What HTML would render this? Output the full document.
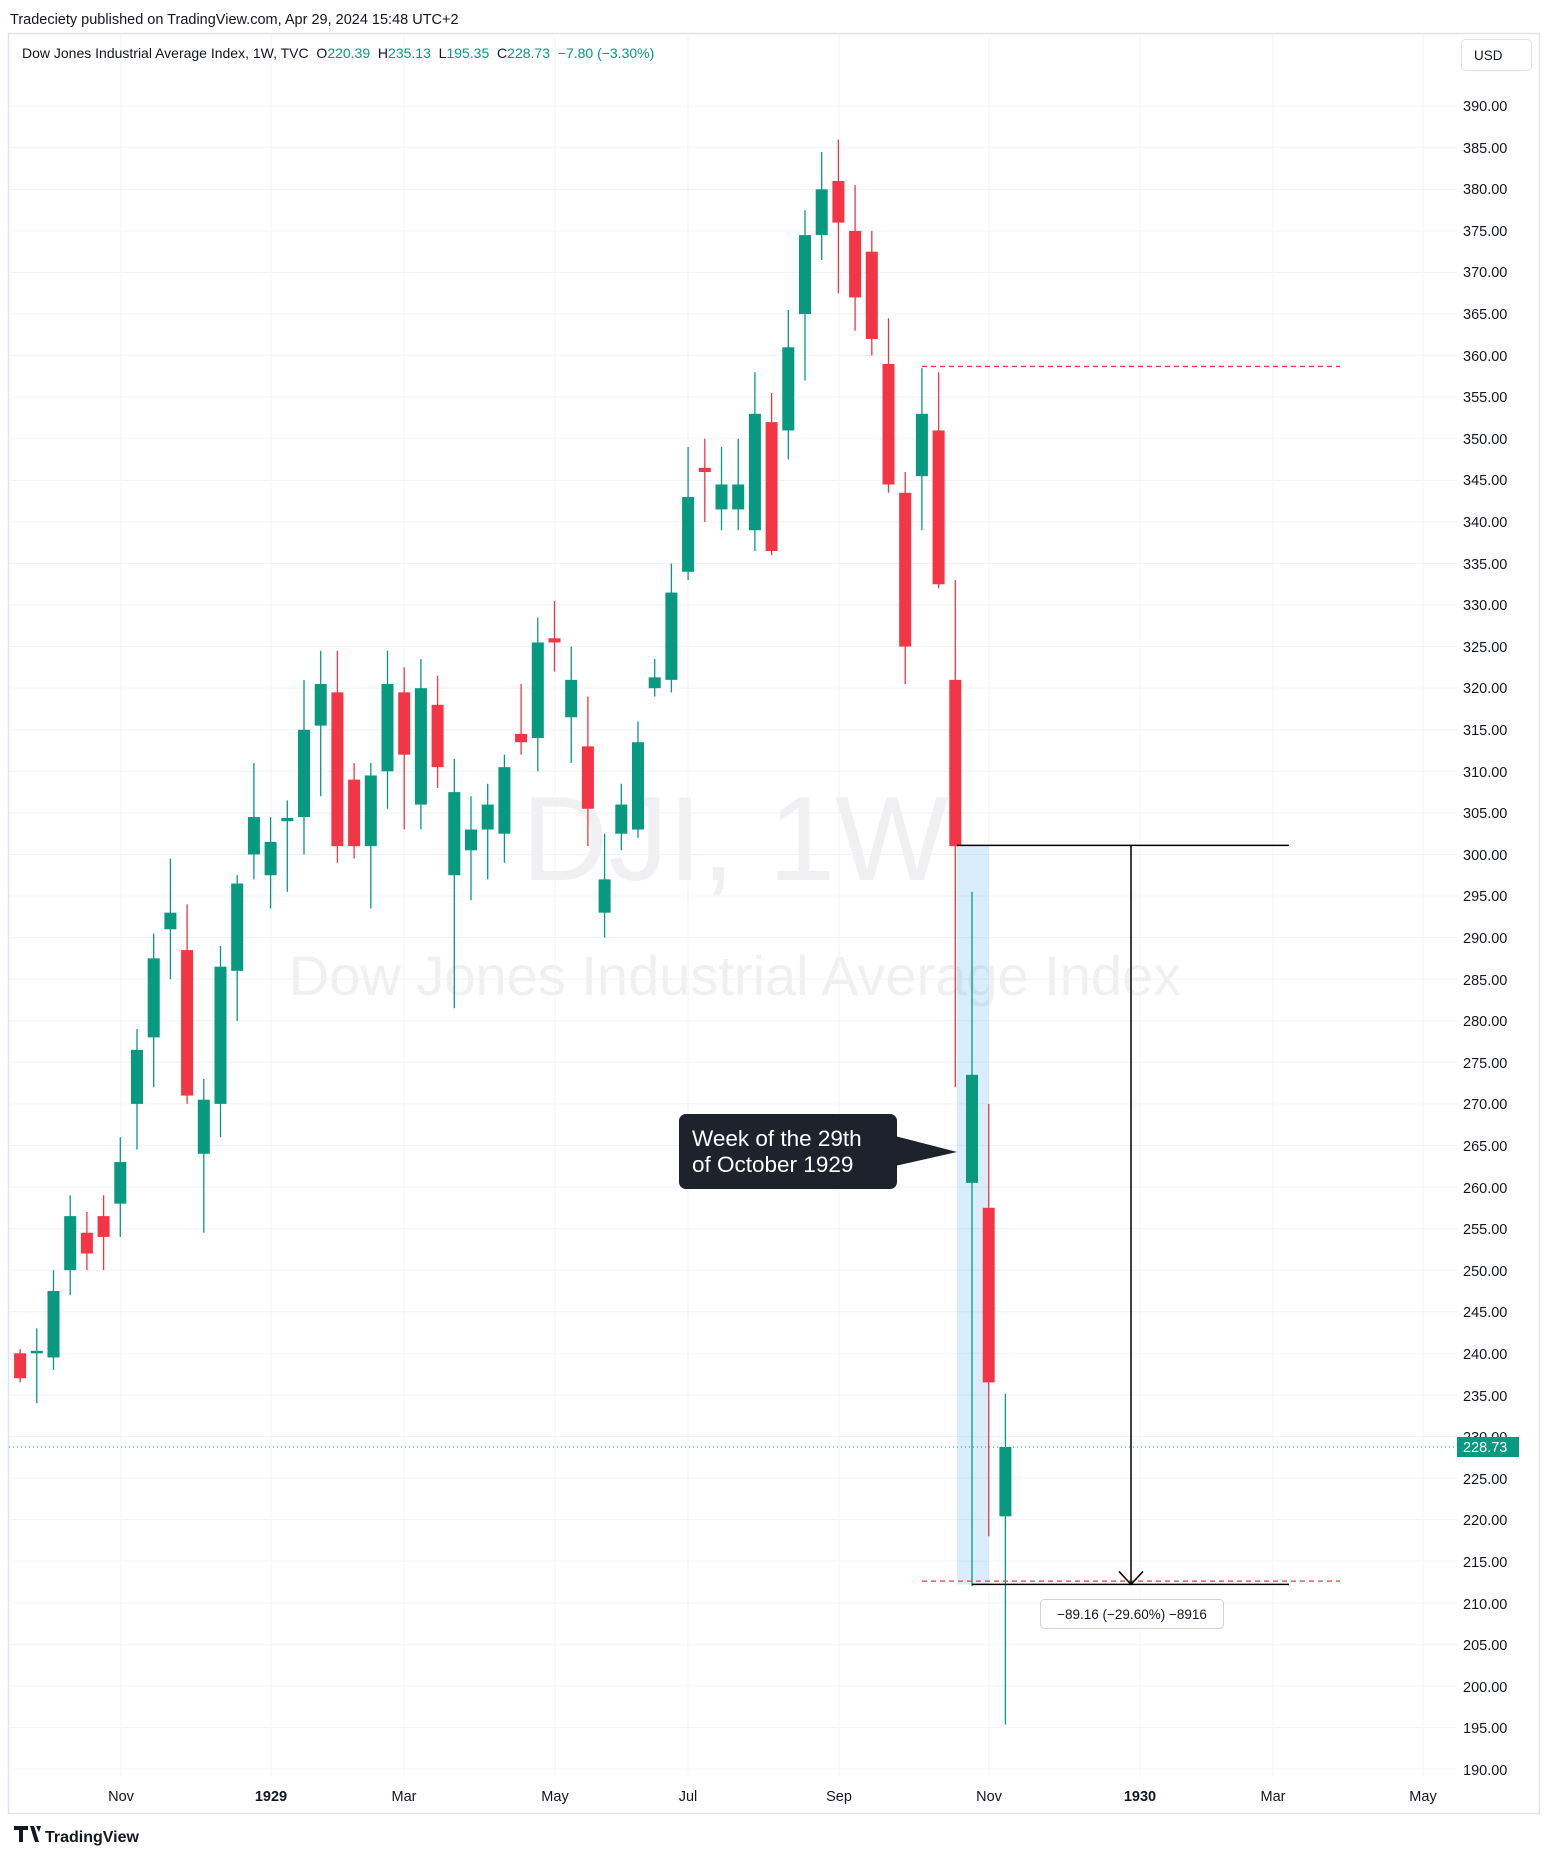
<!DOCTYPE html>
<html><head><meta charset="utf-8"><style>
html,body{margin:0;padding:0;background:#fff;}
svg{display:block;font-family:"Liberation Sans",sans-serif;}
</style></head><body>
<svg id="c" width="1552" height="1857" viewBox="0 0 1552 1857" xmlns="http://www.w3.org/2000/svg">
<rect width="1552" height="1857" fill="#fff"/>
<text x="10" y="24" font-size="14.5" fill="#131722">Tradeciety published on TradingView.com, Apr 29, 2024 15:48 UTC+2</text>
<rect x="8.5" y="33.5" width="1531" height="1780" fill="none" stroke="#e0e3eb" stroke-width="1.5"/>
<g id="grid" stroke="#f0f3fa" stroke-width="1"></g>
<g font-size="84" fill="#f0f0f2" text-anchor="middle">
<text x="735" y="880" font-size="120">DJI, 1W</text>
<text x="735" y="995" font-size="56">Dow Jones Industrial Average Index</text>
</g>
<g id="ann"></g>
<g id="candles"></g>
<g id="over"></g>
<text x="22" y="58" font-size="14" fill="#131722" style="white-space:pre" xml:space="preserve">Dow Jones Industrial Average Index, 1W, TVC  O<tspan fill="#089981">220.39</tspan>  H<tspan fill="#089981">235.13</tspan>  L<tspan fill="#089981">195.35</tspan>  C<tspan fill="#089981">228.73</tspan>  <tspan fill="#089981">−7.80 (−3.30%)</tspan></text>
<rect x="1461.5" y="39.5" width="70" height="31" rx="4" fill="#fff" stroke="#e0e3eb"/>
<text x="1474" y="60" font-size="13.5" fill="#131722">USD</text>
<g font-size="14.5" fill="#131722">
<text x="1463" y="111">390.00</text><text x="1463" y="153">385.00</text><text x="1463" y="194">380.00</text><text x="1463" y="236">375.00</text><text x="1463" y="277">370.00</text><text x="1463" y="319">365.00</text><text x="1463" y="361">360.00</text><text x="1463" y="402">355.00</text><text x="1463" y="444">350.00</text><text x="1463" y="485">345.00</text><text x="1463" y="527">340.00</text><text x="1463" y="569">335.00</text><text x="1463" y="610">330.00</text><text x="1463" y="652">325.00</text><text x="1463" y="693">320.00</text><text x="1463" y="735">315.00</text><text x="1463" y="777">310.00</text><text x="1463" y="818">305.00</text><text x="1463" y="860">300.00</text><text x="1463" y="901">295.00</text><text x="1463" y="943">290.00</text><text x="1463" y="985">285.00</text><text x="1463" y="1026">280.00</text><text x="1463" y="1068">275.00</text><text x="1463" y="1109">270.00</text><text x="1463" y="1151">265.00</text><text x="1463" y="1193">260.00</text><text x="1463" y="1234">255.00</text><text x="1463" y="1276">250.00</text><text x="1463" y="1317">245.00</text><text x="1463" y="1359">240.00</text><text x="1463" y="1401">235.00</text><text x="1463" y="1442">230.00</text><text x="1463" y="1484">225.00</text><text x="1463" y="1525">220.00</text><text x="1463" y="1567">215.00</text><text x="1463" y="1609">210.00</text><text x="1463" y="1650">205.00</text><text x="1463" y="1692">200.00</text><text x="1463" y="1733">195.00</text><text x="1463" y="1775">190.00</text>
</g>
<rect x="1457" y="1437" width="62" height="20" fill="#089981"/>
<text x="1463" y="1452" font-size="14.5" fill="#fff">228.73</text>
<g font-size="14.5" fill="#131722" text-anchor="middle">
<text x="121" y="1801">Nov</text><text x="271" y="1801" font-weight="bold">1929</text><text x="404" y="1801">Mar</text><text x="555" y="1801">May</text><text x="688" y="1801">Jul</text><text x="839" y="1801">Sep</text><text x="989" y="1801">Nov</text><text x="1140" y="1801" font-weight="bold">1930</text><text x="1273" y="1801">Mar</text><text x="1423" y="1801">May</text>
</g>
<g>
<rect x="679" y="1114" width="218" height="75" rx="7" fill="#1e222d"/>
<polygon points="895,1136 957,1152 895,1166" fill="#1e222d"/>
<text x="692" y="1146" font-size="22.5" fill="#fff">Week of the 29th</text>
<text x="692" y="1172" font-size="22.5" fill="#fff">of October 1929</text>
</g>
<rect x="1040.5" y="1599.5" width="183" height="29" rx="4" fill="#fff" stroke="#d1d4dc"/>
<text x="1132" y="1619" font-size="13.5" fill="#131722" text-anchor="middle">−89.16 (−29.60%) −8916</text>
<g fill="#131722"><path d="M14 1826h14v4h-5v12h-4v-12h-5z M30 1826h4l5 16h-4z M36 1826h5l-2 6z"/></g>
<text x="45" y="1842" font-size="16" font-weight="bold" fill="#131722">TradingView</text>
</svg>
<script>
var NS="http://www.w3.org/2000/svg";
function Y(p){return 1769-(p-190)*8.314;}
function el(parent,tag,attrs){var e=document.createElementNS(NS,tag);for(var k in attrs)e.setAttribute(k,attrs[k]);document.getElementById(parent).appendChild(e);return e;}
for(var p=190;p<=390;p+=5){el("grid","line",{x1:9,x2:1457,y1:Y(p),y2:Y(p)});}
[121,271,404,555,688,839,989,1140,1273,1423].forEach(function(x){el("grid","line",{x1:x,x2:x,y1:34,y2:1777});});
var d=[[240,237,240.5,236.5],[240,240.3,243,234],[239.5,247.5,250,238],[250,256.5,259,247],[254.5,252,257,250],[256.5,254,259,250],[258,263,266,254],[270,276.5,279,264.5],[278,287.5,290.5,272],[291,293,299.5,285],[288.5,271,294,270],[264,270.5,273,254.5],[270,286.5,289,266],[286,296.5,297.5,280],[300,304.5,311,297],[297.5,301.5,304.5,293.5],[304,304.4,306.5,295.5],[304.5,315,321,300],[315.5,320.5,324.5,307],[319.5,301,324.5,299],[309,301,311,299.5],[301,309.5,311,293.5],[310,320.5,324.5,305.5],[319.5,312,322.5,303],[306,320,323.5,303],[318,310.5,321.5,308],[297.5,307.5,311.5,281.5],[300.5,303,307,294.5],[303,306,308.5,297],[302.5,310.5,312,299],[314.5,313.5,320.5,312],[314,325.5,328.5,310],[326,325.5,330.5,322],[316.5,321,325,311],[313,305.5,319,301],[293,297,302.5,290],[302.5,306,308.5,300.5],[303,313.5,316,302],[320,321.3,323.5,319],[321,331.5,335,319.5],[334,343,349,333],[346.5,346,350,340],[341.5,344.5,349,339],[341.5,344.5,350,339],[339,353,358,336.5],[352,336.5,355.5,336],[351,361,365.5,347.5],[365,374.5,377.5,357],[374.5,380,384.5,371.5],[381,376,386,367.5],[375,367,380.5,363],[372.5,362,375,360],[359,344.5,364.5,343.5],[343.5,325,346,320.5],[345.5,353,358.5,339],[351,332.5,358,332],[321,301,333,272],[260.5,273.5,295.5,212],[257.5,236.5,270,218],[220.39,228.73,235.13,195.35]];
el("ann","rect",{x:957,y:Y(301.1),width:32,height:Y(212.2)-Y(301.1),fill:"rgba(33,150,243,0.17)"});
d.forEach(function(c,i){
 var x=20.1+16.7*i,g=c[1]>=c[0],col=g?"#089981":"#f23645";
 el("candles","line",{x1:x,x2:x,y1:Y(c[2]),y2:Y(c[3]),stroke:col,"stroke-width":1.3});
 var t=Y(Math.max(c[0],c[1])),b=Y(Math.min(c[0],c[1]));
 el("candles","rect",{x:x-6,y:t,width:12,height:Math.max(b-t,2),fill:col});
});
el("over","line",{x1:9,x2:1457,y1:Y(228.73),y2:Y(228.73),stroke:"#089981","stroke-width":1,"stroke-dasharray":"1,3"});
el("over","line",{x1:922,x2:1340,y1:Y(358.7),y2:Y(358.7),stroke:"#f23645","stroke-width":1.3,"stroke-dasharray":"5,4"});
el("over","line",{x1:922,x2:1340,y1:Y(212.6),y2:Y(212.6),stroke:"#f23645","stroke-width":1.3,"stroke-dasharray":"5,4"});
el("over","line",{x1:957,x2:1289,y1:Y(301.1),y2:Y(301.1),stroke:"#000","stroke-width":1.5});
el("over","line",{x1:972,x2:1289,y1:Y(212.2),y2:Y(212.2),stroke:"#000","stroke-width":1.5});
el("over","line",{x1:1131,x2:1131,y1:Y(301.1),y2:Y(212.2),stroke:"#000","stroke-width":1.5});
el("over","path",{d:"M1119 "+(Y(212.2)-13)+" L1131 "+Y(212.2)+" L1143 "+(Y(212.2)-13),fill:"none",stroke:"#000","stroke-width":1.5});
</script>
</body></html>
